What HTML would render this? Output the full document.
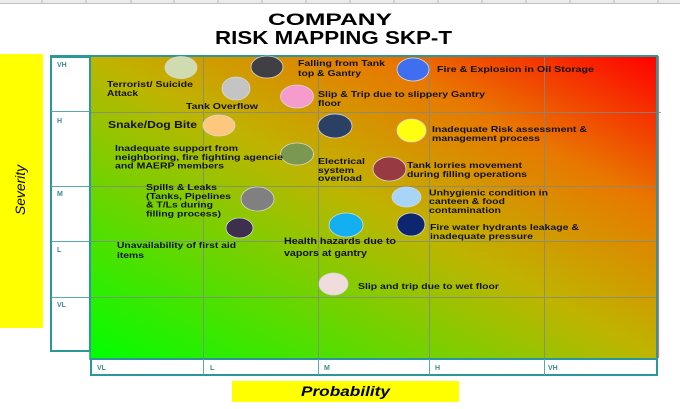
<!DOCTYPE html>
<html><head><meta charset="utf-8"><style>
html,body{margin:0;padding:0;background:#fff;}
svg{display:block;}
text{font-family:"Liberation Sans",Arial,sans-serif;}
.l{font-size:8.5px;font-weight:bold;fill:#111;}
.ax{font-size:7px;font-weight:bold;fill:#3a8a8a;}
</style></head><body>
<svg width="680" height="409" viewBox="0 0 680 409" xmlns="http://www.w3.org/2000/svg">
<defs>
<linearGradient id="g" x1="0" y1="1" x2="1" y2="0" gradientUnits="objectBoundingBox">
<stop offset="0" stop-color="#00ff00"/>
<stop offset="0.5" stop-color="#bfb400"/>
<stop offset="0.75" stop-color="#e87800"/>
<stop offset="1" stop-color="#ff0000"/>
</linearGradient>
</defs>
<!-- ruler -->
<rect x="0" y="0" width="680" height="3" fill="#ececec"/>
<line x1="0" y1="3.5" x2="680" y2="3.5" stroke="#c0c0c0" stroke-width="1"/>
<g stroke="#b8b8b8" stroke-width="1">
<line x1="42" y1="0" x2="42" y2="3"/><line x1="86" y1="0" x2="86" y2="3"/><line x1="131" y1="0" x2="131" y2="3"/><line x1="174" y1="0" x2="174" y2="3"/><line x1="218" y1="0" x2="218" y2="3"/><line x1="262" y1="0" x2="262" y2="3"/><line x1="306" y1="0" x2="306" y2="3"/><line x1="350" y1="0" x2="350" y2="3"/><line x1="394" y1="0" x2="394" y2="3"/><line x1="438" y1="0" x2="438" y2="3"/><line x1="482" y1="0" x2="482" y2="3"/><line x1="526" y1="0" x2="526" y2="3"/><line x1="570" y1="0" x2="570" y2="3"/><line x1="614" y1="0" x2="614" y2="3"/><line x1="658" y1="0" x2="658" y2="3"/>
</g>
<!-- title -->
<text x="268" y="25" font-size="17" font-weight="bold" fill="#000" textLength="124" lengthAdjust="spacingAndGlyphs">COMPANY</text>
<text x="215" y="44" font-size="18" font-weight="bold" fill="#000" textLength="237" lengthAdjust="spacingAndGlyphs">RISK MAPPING SKP-T</text>

<!-- severity box -->
<rect x="0" y="54" width="43" height="274" fill="#ffff00"/>
<text x="25" y="190" font-size="14" font-style="italic" fill="#000" text-anchor="middle" transform="rotate(-90 25 190)" textLength="50" lengthAdjust="spacingAndGlyphs">Severity</text>

<!-- probability box -->
<rect x="232" y="381" width="227" height="21" fill="#ffff00"/>
<text x="301" y="396" font-size="14" font-style="italic" font-weight="bold" fill="#000" textLength="89" lengthAdjust="spacingAndGlyphs">Probability</text>

<!-- gradient -->
<rect x="90" y="56" width="567" height="302" fill="url(#g)"/>
<line x1="658.5" y1="56" x2="658.5" y2="358" stroke="#ff6060" stroke-width="1"/>

<!-- grid -->
<g stroke="#7f8a8a" stroke-width="1" opacity="0.8">
<line x1="203.5" y1="56" x2="203.5" y2="358"/>
<line x1="318.5" y1="56" x2="318.5" y2="358"/>
<line x1="429.5" y1="56" x2="429.5" y2="358"/>
<line x1="544.5" y1="56" x2="544.5" y2="358"/>
<line x1="90" y1="112.5" x2="661" y2="112.5"/>
<line x1="90" y1="186.5" x2="657" y2="186.5"/>
<line x1="90" y1="241.5" x2="657" y2="241.5"/>
<line x1="90" y1="297.5" x2="657" y2="297.5"/>
</g>

<!-- left column -->
<rect x="51" y="57" width="39" height="294" fill="#fff" stroke="#2a9898" stroke-width="2"/>
<g stroke="#5aaaaa" stroke-width="1">
<line x1="51" y1="111.5" x2="90" y2="111.5"/>
<line x1="51" y1="186.5" x2="90" y2="186.5"/>
<line x1="51" y1="241.5" x2="90" y2="241.5"/>
<line x1="51" y1="297.5" x2="90" y2="297.5"/>
</g>
<!-- outer top/right border -->
<line x1="50" y1="56" x2="658" y2="56" stroke="#2a9898" stroke-width="2"/>
<line x1="657" y1="56" x2="657" y2="375" stroke="#2a9898" stroke-width="2"/>
<line x1="90" y1="56" x2="90" y2="360" stroke="#2a9898" stroke-width="1.5"/>

<!-- bottom row -->
<rect x="91" y="359" width="566" height="16" fill="#fff" stroke="#2a9898" stroke-width="2"/>
<g stroke="#5aaaaa" stroke-width="1">
<line x1="203.5" y1="359" x2="203.5" y2="375"/>
<line x1="318.5" y1="359" x2="318.5" y2="375"/>
<line x1="429.5" y1="359" x2="429.5" y2="375"/>
<line x1="544.5" y1="359" x2="544.5" y2="375"/>
</g>

<!-- axis labels -->
<text class="ax" x="57" y="67">VH</text>
<text class="ax" x="57" y="123">H</text>
<text class="ax" x="57" y="196">M</text>
<text class="ax" x="57" y="252">L</text>
<text class="ax" x="57" y="307">VL</text>
<text class="ax" x="97" y="370">VL</text>
<text class="ax" x="210" y="370">L</text>
<text class="ax" x="324" y="370">M</text>
<text class="ax" x="435" y="370">H</text>
<text class="ax" x="548" y="370">VH</text>

<!-- bubbles -->
<g stroke="#d8d8d8" stroke-width="0.8">
<ellipse cx="181" cy="67.5" rx="16" ry="11" fill="#d0dcb0"/>
<ellipse cx="267" cy="67" rx="16" ry="11" fill="#404044"/>
<ellipse cx="413" cy="69.5" rx="16" ry="11.5" fill="#3f6ff0"/>
<ellipse cx="236" cy="88.5" rx="14" ry="11.5" fill="#c4c4c4"/>
<ellipse cx="297" cy="96.5" rx="16.5" ry="11.5" fill="#f59ccc"/>
<ellipse cx="219" cy="125.5" rx="16" ry="10.5" fill="#fdc87e"/>
<ellipse cx="335" cy="126" rx="17" ry="12" fill="#2a4064"/>
<ellipse cx="411.5" cy="130.5" rx="14.5" ry="11.5" fill="#ffff10"/>
<ellipse cx="297" cy="154" rx="16.5" ry="11" fill="#7a9850"/>
<ellipse cx="389.5" cy="169" rx="16.5" ry="12" fill="#983a42"/>
<ellipse cx="257.5" cy="199" rx="16.5" ry="12" fill="#808080"/>
<ellipse cx="406.5" cy="197" rx="14.5" ry="10" fill="#a8d4f8"/>
<ellipse cx="239.5" cy="228" rx="13.5" ry="10" fill="#3e2f4e"/>
<ellipse cx="346" cy="225" rx="17" ry="12" fill="#12b0f0"/>
<ellipse cx="411" cy="224.5" rx="14" ry="11.5" fill="#0c2670"/>
<ellipse cx="333.5" cy="284" rx="14.5" ry="11" fill="#f0dcdc"/>
</g>

<!-- labels -->
<text class="l" x="107" y="87" textLength="86" lengthAdjust="spacingAndGlyphs">Terrorist/ Suicide</text>
<text class="l" x="107" y="96" textLength="31" lengthAdjust="spacingAndGlyphs">Attack</text>
<text class="l" x="186" y="109" textLength="72" lengthAdjust="spacingAndGlyphs">Tank Overflow</text>
<text class="l" x="298" y="66" textLength="87" lengthAdjust="spacingAndGlyphs">Falling from Tank</text>
<text class="l" x="298" y="76" textLength="63" lengthAdjust="spacingAndGlyphs">top &amp; Gantry</text>
<text class="l" x="437" y="72" textLength="157" lengthAdjust="spacingAndGlyphs">Fire &amp; Explosion in  Oil Storage</text>
<text class="l" x="318" y="97" textLength="167" lengthAdjust="spacingAndGlyphs">Slip &amp; Trip due to slippery Gantry</text>
<text class="l" x="318" y="106" textLength="23" lengthAdjust="spacingAndGlyphs">floor</text>
<text x="108" y="128" font-size="10.5" font-weight="bold" fill="#111" textLength="89" lengthAdjust="spacingAndGlyphs">Snake/Dog Bite</text>
<text class="l" x="432" y="132" textLength="155" lengthAdjust="spacingAndGlyphs">Inadequate Risk assessment &amp;</text>
<text class="l" x="432" y="141" textLength="108" lengthAdjust="spacingAndGlyphs">management process</text>
<text class="l" x="115" y="151" textLength="123" lengthAdjust="spacingAndGlyphs">Inadequate support from</text>
<text class="l" x="115" y="160" textLength="168" lengthAdjust="spacingAndGlyphs">neighboring,  fire fighting agencie</text>
<text class="l" x="115" y="168.5" textLength="109" lengthAdjust="spacingAndGlyphs">and MAERP members</text>
<text class="l" x="318" y="164" textLength="47" lengthAdjust="spacingAndGlyphs">Electrical</text>
<text class="l" x="318" y="173" textLength="36" lengthAdjust="spacingAndGlyphs">system</text>
<text class="l" x="318" y="181" textLength="44" lengthAdjust="spacingAndGlyphs">overload</text>
<text class="l" x="407" y="168" textLength="115" lengthAdjust="spacingAndGlyphs">Tank lorries movement</text>
<text class="l" x="407" y="177" textLength="120" lengthAdjust="spacingAndGlyphs">during filling operations</text>
<text class="l" x="146" y="190" textLength="71" lengthAdjust="spacingAndGlyphs">Spills &amp; Leaks</text>
<text class="l" x="146" y="199" textLength="85" lengthAdjust="spacingAndGlyphs">(Tanks, Pipelines</text>
<text class="l" x="146" y="207.5" textLength="67" lengthAdjust="spacingAndGlyphs">&amp; T/Ls during</text>
<text class="l" x="146" y="216.5" textLength="75" lengthAdjust="spacingAndGlyphs">filling process)</text>
<text class="l" x="429" y="195.5" textLength="119" lengthAdjust="spacingAndGlyphs">Unhygienic condition in</text>
<text class="l" x="429" y="204" textLength="76" lengthAdjust="spacingAndGlyphs">canteen &amp; food</text>
<text class="l" x="429" y="213" textLength="72" lengthAdjust="spacingAndGlyphs">contamination</text>
<text class="l" x="430" y="230" textLength="149" lengthAdjust="spacingAndGlyphs">Fire water hydrants leakage &amp;</text>
<text class="l" x="430" y="239" textLength="103" lengthAdjust="spacingAndGlyphs">inadequate pressure</text>
<text class="l" x="117" y="248" textLength="119" lengthAdjust="spacingAndGlyphs">Unavailability of first aid</text>
<text class="l" x="117" y="258" textLength="27" lengthAdjust="spacingAndGlyphs">items</text>
<text x="284" y="244" font-size="9.5" font-weight="bold" fill="#111" textLength="112" lengthAdjust="spacingAndGlyphs">Health hazards due to</text>
<text x="284" y="256" font-size="9.5" font-weight="bold" fill="#111" textLength="83" lengthAdjust="spacingAndGlyphs">vapors at gantry</text>
<text class="l" x="358" y="289" textLength="141" lengthAdjust="spacingAndGlyphs">Slip and trip due to wet floor</text>
</svg>
</body></html>
